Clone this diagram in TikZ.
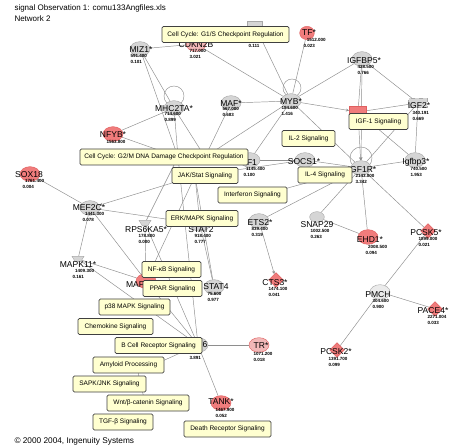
\documentclass[tikz,border=0pt]{standalone}
\usepackage{fontspec}
\setmainfont{Liberation Sans}
\usetikzlibrary{shapes.geometric,backgrounds,arrows.meta}
\definecolor{edgegray}{HTML}{8E8E8E}
\definecolor{genegray}{HTML}{D5D5D5}
\definecolor{generim}{HTML}{A8A8A8}
\definecolor{genered}{HTML}{F07C7C}
\definecolor{generedrim}{HTML}{E06060}
\definecolor{genepink}{HTML}{F2B8B8}
\definecolor{boxfill}{HTML}{FFFFD0}
\tikzset{every picture/.style={line width=0.75pt}}
\tikzset{
  edge/.style={draw=edgegray, line width=0.35pt},
  arr/.style={-{Stealth[length=2.4pt,width=2.2pt]}},
  graygene/.style={ellipse, fill=genegray, draw=generim, line width=0.3pt, minimum width=15pt, minimum height=11pt, inner sep=0pt},
  redgene/.style={graygene, fill=genered, draw=generedrim},
  reddia/.style={diamond, fill=genered, draw=generedrim, line width=0.3pt, minimum width=11pt, minimum height=11pt, inner sep=0pt},
  graytrap/.style={trapezium, trapezium angle=60, trapezium stretches=true, shape border rotate=180, fill=genegray, draw=generim, line width=0.3pt, minimum width=9pt, minimum height=4pt, inner sep=0.3pt},
  genename/.style={font=\fontsize{6.4}{7}\selectfont, inner sep=0pt},
  geneval/.style={font=\fontsize{3.4}{4.6}\selectfont\bfseries, align=left, inner sep=0pt, anchor=north west},
  pathbox/.style={draw=black!75, fill=boxfill, rounded corners=1pt, line width=0.5pt, font=\fontsize{4.9}{5.5}\selectfont, inner sep=0pt, minimum height=12pt},
  headtext/.style={font=\fontsize{6}{7}\selectfont, inner sep=0pt, anchor=north west}
}
\begin{document}
\begin{tikzpicture}[
            x=0.75pt,
            y=0.75pt,
            yscale=-1,
            xscale=1,
            line width=0.75pt
        ]
            \useasboundingbox (0,0) rectangle (474,448);

            % gene shapes
            \node[graygene] (miz1) at (140,49) {};
            \node[graygene, fill=genepink, draw=generedrim] (cdkn2b) at (196,44) {};
            \node[rectangle, fill=genegray, draw=generim, line width=0.3pt, minimum width=11pt, minimum height=7pt, inner sep=0pt] (g1shid) at (255,26) {};
            \node[redgene, minimum width=11pt, minimum height=10pt] (tf) at (307,33) {};
            \node[graygene] (igfbp5) at (362,59) {};
            \node[rectangle, fill=genegray, draw=generim, dashed, line width=0.3pt, minimum width=14pt, minimum height=7pt, inner sep=0pt] (igf2) at (418,103) {};
            \node[graygene] (myb) at (291,101) {};
            \node[graygene] (maf) at (231,103) {};
            \node[graygene] (mhc2ta) at (174,108) {};
            \node[redgene] (nfyb) at (113,134) {};
            \node[redgene] (sox18) at (30,174) {};
            \node[graygene] (mef2c) at (90,208) {};
            \node[graytrap] (mapk11) at (78,259) {};
            \node[graytrap] (rps6ka5) at (145,223) {};
            \node[graygene] (stat2) at (200,224) {};
            \node[redgene] (map) at (146,281) {};
            \node[graygene] (stat4) at (214,287) {};
            \node[graygene] (f1) at (250,160) {};
            \node[graygene] (socs1) at (305,160) {};
            \node[rectangle, fill=genered, draw=generedrim, line width=0.3pt, minimum width=13pt, minimum height=8pt, inner sep=0pt] (igf1) at (358,112) {};
            \node[graygene] (igf1r) at (361,168) {};
            \node[graygene] (igfbp3) at (415,160) {};
            \node[graygene] (ets2) at (259,221) {};
            \node[graygene, minimum width=11pt, minimum height=8pt] (snap29) at (317,217) {};
            \node[redgene] (ehd1) at (368,237) {};
            \node[reddia] (pcsk5) at (428,231) {};
            \node[reddia] (cts3) at (276,280) {};
            \node[graygene, fill=white!92!black] (pmch) at (380,292) {};
            \node[reddia] (pace4) at (435,309) {};
            \node[reddia] (pcsk2) at (337,350) {};
            \node[redgene, fill=genepink] (tr) at (259,345) {};
            \node[redgene] (tank) at (221,403) {};
            \node[graygene] (node6) at (198,345) {};

            % hidden ends behind the pathway boxes
            \coordinate (hubA) at (178,157);
            \coordinate (hubB) at (205,157);
            \coordinate (hubJ) at (195,176);
            \coordinate (hubI) at (262,195);
            \coordinate (hubL) at (138,372);
            \coordinate (hubW) at (145,403);

            % gene names and values
            \node[genename] (miz1-l) at (141,50) {MIZ1*};
            \node[geneval] (miz1-v) at (130,54) {591.400\\0.101};
            \node[genename] (cdkn2b-l) at (196,45) {CDKN2B};
            \node[geneval] (cdkn2b-v) at (189,49) {717.000\\3.021};
            \node[geneval] (g1shid-v) at (248,44) {0.111};
            \node[genename] (tf-l) at (309,33) {TF*};
            \node[geneval] (tf-v) at (303,38) {\hspace{2.5pt}1512.000\\0.023};
            \node[genename] (igfbp5-l) at (364,61) {IGFBP5*};
            \node[geneval] (igfbp5-v) at (357,65) {428.500\\0.766};
            \node[genename] (igf2-l) at (419,106) {IGF2*};
            \node[geneval] (igf2-v) at (412,111) {340.191\\0.669};
            \node[genename] (myb-l) at (291,102) {MYB*};
            \node[geneval] (myb-v) at (281,106) {184.600\\1.416};
            \node[genename] (maf-l) at (231,104) {MAF*};
            \node[geneval] (maf-v) at (222,107) {567.000\\0.683};
            \node[genename] (mhc2ta-l) at (174,109) {MHC2TA*};
            \node[geneval] (mhc2ta-v) at (164,112) {714.600\\0.899};
            \node[genename] (nfyb-l) at (113,135) {NFYB*};
            \node[geneval] (nfyb-v) at (106,140) {1563.800};
            \node[genename] (sox18-l) at (29,175) {SOX18};
            \node[geneval] (sox18-v) at (22,179) {\hspace{2pt}1761.400\\0.004};
            \node[genename] (mef2c-l) at (89,208) {MEF2C*};
            \node[geneval] (mef2c-v) at (82,212) {\hspace{2pt}1441.300\\0.078};
            \node[genename] (mapk11-l) at (78,265) {MAPK11*};
            \node[geneval] (mapk11-v) at (72,269) {\hspace{2pt}1409.300\\0.161};
            \node[genename] (rps6ka5-l) at (146,230) {RPS6KA5*};
            \node[geneval] (rps6ka5-v) at (138,234) {178.800\\0.000};
            \node[genename] (stat2-l) at (201,230) {STAT2};
            \node[geneval] (stat2-v) at (194,234) {918.400\\0.777};
            \node[genename, anchor=east] (map-l) at (145,285) {MAP};
            \node[genename] (stat4-l) at (216,287) {STAT4};
            \node[geneval] (stat4-v) at (207,292) {75.600\\0.977};
            \node[genename] (f1-l) at (252,163) {F1};
            \node[geneval] (f1-v) at (243,167) {\hspace{2pt}1145.400\\0.100};
            \node[genename] (socs1-l) at (304,162) {SOCS1*};
            \node[genename] (igf1r-l) at (362,170) {IGF1R*};
            \node[geneval] (igf1r-v) at (355,174) {2143.000\\3.342};
            \node[genename] (igfbp3-l) at (416,162) {Igfbp3*};
            \node[geneval] (igfbp3-v) at (410,167) {740.500\\1.953};
            \node[genename] (ets2-l) at (260,223) {ETS2*};
            \node[geneval] (ets2-v) at (251,227) {839.400\\0.319};
            \node[genename] (snap29-l) at (317,225) {SNAP29};
            \node[geneval] (snap29-v) at (310,229) {1002.500\\0.263};
            \node[genename] (ehd1-l) at (370,240) {EHD1*};
            \node[geneval] (ehd1-v) at (365,245) {\hspace{2pt}2008.500\\0.094};
            \node[genename] (pcsk5-l) at (426,233) {PCSK5*};
            \node[geneval] (pcsk5-v) at (418,237) {1899.000\\0.021};
            \node[genename] (cts3-l) at (275,283) {CTS3*};
            \node[geneval] (cts3-v) at (268,287) {1474.100\\0.041};
            \node[genename] (pmch-l) at (378,295) {PMCH};
            \node[geneval] (pmch-v) at (372,299) {304.600\\0.900};
            \node[genename] (pace4-l) at (433,311) {PACE4*};
            \node[geneval] (pace4-v) at (427,315) {2271.004\\0.033};
            \node[genename] (pcsk2-l) at (336,352) {PCSK2*};
            \node[geneval] (pcsk2-v) at (328,357) {1391.700\\0.099};
            \node[genename] (tr-l) at (261,346) {TR*};
            \node[geneval] (tr-v) at (253,352) {1071.200\\0.018};
            \node[genename] (tank-l) at (221,402) {TANK*};
            \node[geneval] (tank-v) at (215,408) {1467.900\\0.052};
            \node[genename] (node6-l) at (205,345) {6};
            \node[geneval] (node6-v) at (189,356) {3.891};

            % pathway boxes
            \node[pathbox, minimum width=95.25pt] (g1s) at (225.5,34.5) {Cell Cycle: G1/S Checkpoint Regulation};
            \node[pathbox, minimum width=126pt] (g2m) at (164,157) {Cell Cycle: G2/M DNA Damage Checkpoint Regulation};
            \node[pathbox, minimum width=44.25pt] (igf1sig) at (378.5,121.5) {IGF-1 Signaling};
            \node[pathbox, minimum width=39.75pt] (il2sig) at (308.5,138.5) {IL-2 Signaling};
            \node[pathbox, minimum width=40.5pt] (il4sig) at (325,175) {IL-4 Signaling};
            \node[pathbox, minimum width=51.75pt] (ifnsig) at (252.5,195) {Interferon Signaling};
            \node[pathbox, minimum width=49.5pt] (jaksig) at (205,175.5) {JAK/Stat Signaling};
            \node[pathbox, minimum width=54pt] (erksig) at (202,218.5) {ERK/MAPK Signaling};
            \node[pathbox, minimum width=44.25pt] (nfkbsig) at (171.5,269.5) {NF-κB Signaling};
            \node[pathbox, minimum width=44.25pt] (pparsig) at (172.5,288.5) {PPAR Signaling};
            \node[pathbox, minimum width=53.25pt] (p38sig) at (134.5,307) {p38 MAPK Signaling};
            \node[pathbox, minimum width=56.25pt] (chemosig) at (115.5,326.5) {Chemokine Signaling};
            \node[pathbox, minimum width=65.25pt] (bcellsig) at (158.5,345.5) {B Cell Receptor Signaling};
            \node[pathbox, minimum width=53.25pt] (amyloid) at (128.5,365) {Amyloid Processing};
            \node[pathbox, minimum width=54.75pt] (sapksig) at (109.5,384) {SAPK/JNK Signaling};
            \node[pathbox, minimum width=61.5pt] (wntsig) at (148,403) {Wnt/β-catenin Signaling};
            \node[pathbox, minimum width=45pt] (tgfbsig) at (123,422) {TGF-β Signaling};
            \node[pathbox, minimum width=65.25pt] (deathsig) at (227.5,429) {Death Receptor Signaling};

            % header and footer
            \node[headtext] (title) at (14,4) {signal Observation 1: comu133Angfiles.xls};
            \node[headtext] (netname) at (14,15) {Network 2};
            \node[headtext, font=\fontsize{6.2}{7}\selectfont] (copyr) at (14,437) {© 2000 2004, Ingenuity Systems};

            % connectors
            \begin{scope}[on background layer]
            \fill[white] (0,0) rectangle (474,448);
            \draw[edge] (miz1) -- (cdkn2b);
            \draw[edge] (miz1) -- (mhc2ta);
            \draw[edge] (miz1) -- (hubA);
            \draw[edge] (cdkn2b) -- (myb);
            \draw[edge] (g1shid) -- (myb);
            \draw[edge] (tf) -- (myb);
            \draw[edge] (myb) -- (igfbp5);
            \draw[edge] (myb) -- (maf);
            \draw[edge, arr] (myb) -- (igf1);
            \draw[edge] (myb) -- (igf1r);
            \draw[edge] (myb) -- (f1);
            \draw[edge] (myb) -- (hubB);
            \draw[edge] (maf) -- (hubB);
            \draw[edge] (mhc2ta) -- (nfyb);
            \draw[edge] (mhc2ta) -- (hubA);
            \draw[edge] (mhc2ta) -- (hubB);
            \draw[edge] (nfyb) -- (hubA);
            \draw[edge] (igfbp5) -- (igf2);
            \draw[edge] (igfbp5) -- (igf1);
            \draw[edge, arr] (igfbp5) -- (igf1r);
            \draw[edge] (igf2) -- (igf1);
            \draw[edge] (igf2) -- (igfbp3);
            \draw[edge] (igf2) -- (igf1r);
            \draw[edge] (igfbp3) -- (igf1r);
            \draw[edge] (igfbp3) -- (igf1);
            \draw[edge, arr] (igf1) -- (igf1r);
            \draw[edge] (igf1r) -- (socs1);
            \draw[edge] (socs1) -- (f1);
            \draw[edge] (socs1) -- (hubJ);
            \draw[edge] (igf1r) -- (hubI);
            \draw[edge] (igf1r) -- (ets2);
            \draw[edge] (igf1r) -- (snap29);
            \draw[edge] (igf1r) -- (ehd1);
            \draw[edge] (igf1r) -- (pcsk5);
            \draw[edge] (snap29) -- (ehd1);
            \draw[edge, arr] (ets2) -- (cts3);
            \draw[edge] (pcsk5) -- (pmch);
            \draw[edge] (pmch) -- (pace4);
            \draw[edge] (pmch) -- (pcsk2);
            \draw[edge] (node6) -- (tr);
            \draw[edge] (node6) -- (tank);
            \draw[edge] (node6) -- (rps6ka5);
            \draw[edge] (node6) -- (map);
            \draw[edge] (node6) -- (hubA);
            \draw[edge] (node6) -- (mapk11);
            \draw[edge] (node6) -- (hubL);
            \draw[edge] (hubL) -- (hubW);
            \draw[edge] (map) -- (mapk11);
            \draw[edge] (map) -- (rps6ka5);
            \draw[edge] (map) -- (mef2c);
            \draw[edge] (map) -- (hubJ);
            \draw[edge] (mapk11) -- (mef2c);
            \draw[edge] (sox18) -- (mef2c);
            \draw[edge, arr] (hubJ) -- (mef2c);
            \draw[edge] (rps6ka5) -- (hubA);
            \draw[edge] (stat2) -- (hubJ);
            \draw[edge] (stat4) -- (hubJ);
            \draw[edge] (stat4) -- (stat2);
            \draw[edge] (mef2c) -- (stat2);
            % self loops
            \draw[edge] (292,88) circle (9);
            \draw[edge] (174,96) circle (10);
            \draw[edge] (361,158) circle (11);
            \end{scope}
        \end{tikzpicture}
\end{document}
